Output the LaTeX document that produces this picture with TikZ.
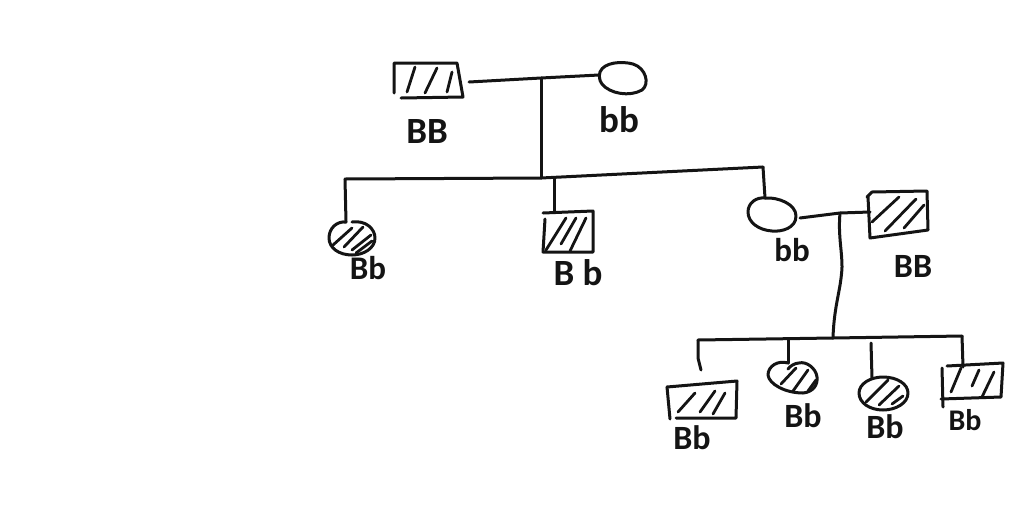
\documentclass[tikz,border=0pt]{standalone}
\usepackage{fontspec}
\setmainfont{Carlito}
\tikzset{
  x=1pt,y=-1pt,
  ink/.style={draw=black!92,line width=3pt,line cap=round,line join=round},
  hatch/.style={draw=black!92,line width=2.8pt,line cap=round},
  lab/.style={text=black!92,inner sep=0pt,font=\bfseries\fontsize{#1}{#1}\selectfont},
  lab/.default=37
}
\begin{document}
\begin{tikzpicture}
\useasboundingbox[fill=white] (0,0) rectangle (1024,512);
% junctions and attachment points
\coordinate (f1R) at (469,82);
\coordinate (m1L) at (599,75);
\coordinate (j1) at (541,78);
\coordinate (sib1) at (541,178);
\coordinate (sib1L) at (345,179);
\coordinate (sib1R) at (763,167);
\coordinate (sib1M) at (554,178);
\coordinate (c1T) at (346,222);
\coordinate (c2T) at (554,211);
\coordinate (c3T) at (765,198);
\coordinate (c3R) at (800,218);
\coordinate (p2L) at (870,212);
\coordinate (j2) at (840,213);
\coordinate (sib2) at (833,338);
\coordinate (sib2L) at (698,340);
\coordinate (sib2R) at (962,336);
\coordinate (g1T) at (701,370);
\coordinate (g2J) at (788,339);
\coordinate (g2T) at (788,363);
\coordinate (g3J) at (871,343);
\coordinate (g3T) at (872,378);
\coordinate (g4T) at (963,367);
% top father
\draw[ink] (394,93) -- (394,63) -- (457,63) -- (463,97) -- (401,98);
\draw[hatch] (415,67) -- (407,92) (437,68) -- (425,93) (452,72) -- (447,92);
% top mother
\draw[ink] (600,72) .. controls (604,62) and (622,61) .. (633,64) .. controls (646,68) and (650,84) .. (642,90) .. controls (630,97) and (610,94) .. (602,84) .. controls (599,80) and (599,76) .. (600,72) -- cycle;
% first connectors
\draw[ink] (f1R) -- (j1) -- (m1L);
\draw[ink] (j1) -- (541,150) -- (sib1);
\draw[ink] (sib1L) -- (sib1) -- (sib1R);
\draw[ink] (sib1L) -- (c1T);
\draw[ink] (sib1M) -- (c2T);
\draw[ink] (sib1R) -- (c3T);
% child 1 circle
\draw[ink] (352,222) .. controls (366,220) and (375,229) .. (375,238) .. controls (375,248) and (364,255) .. (352,255) .. controls (339,255) and (329,248) .. (329,238) .. controls (329,228) and (337,221) .. (346,222);
\draw[hatch] (333,245) -- (352,228) (352,250) -- (371,235) (344,247) -- (363,227) (356,253) -- (372,241);
% child 2 square
\draw[ink] (543,213) -- (593,211) -- (593,252) -- (543,252) -- (545,219);
\draw[hatch] (546,250) -- (566,218) (561,244) -- (576,218) (570,251) -- (586,218);
% child 3 circle
\draw[ink] (765,198) .. controls (778,197) and (796,204) .. (796,216) .. controls (796,228) and (782,232) .. (772,231) .. controls (758,230) and (748,222) .. (748,212) .. controls (748,203) and (756,197) .. (765,198) -- cycle;
\draw[ink] (c3R) -- (j2) -- (p2L);
% partner square
\draw[ink] (867,197) -- (872,192) -- (927,191) -- (928,230) -- (870,238) -- (868,197);
\draw[hatch] (872,222) -- (899,197) (885,231) -- (916,199) (904,228) -- (924,205);
% descent
\draw[ink] (j2) .. controls (838,235) and (842,250) .. (842,267) .. controls (841,290) and (834,305) .. (sib2);
\draw[ink] (sib2L) -- (sib2) -- (sib2R);
\draw[ink] (sib2L) -- (698,358) -- (g1T);
\draw[ink] (g2J) -- (g2T);
\draw[ink] (g3J) -- (g3T);
\draw[ink] (sib2R) -- (g4T);
% grandchild 1
\draw[ink] (667,387) -- (737,381) -- (736,418) -- (676,418);
\draw[ink] (667,387) -- (670,419);
\draw[hatch] (678,412) -- (695,393) (700,412) -- (715,391) (713,414) -- (725,393);
% grandchild 2 heart-ish
\draw[ink] (788,363) .. controls (778,360) and (768,366) .. (768,375) .. controls (769,384) and (785,393) .. (803,393) .. controls (813,392) and (818,385) .. (817,377) .. controls (816,368) and (806,361) .. (799,363) .. controls (795,363) and (790,366) .. (788,369);
\draw[hatch] (781,384) -- (796,368) (793,391) -- (808,370) (808,391) -- (816,380);
% grandchild 3 circle
\draw[ink] (883,377) .. controls (897,377) and (908,384) .. (908,393) .. controls (908,403) and (896,410) .. (883,410) .. controls (870,410) and (859,403) .. (859,393) .. controls (859,384) and (870,377) .. (883,377) -- cycle;
\draw[hatch] (866,402) -- (888,380) (879,405) -- (899,386) (892,404) -- (903,396);
% grandchild 4 square
\draw[ink] (947,366) -- (1003,363) -- (1001,397) -- (941,399);
\draw[ink] (942,368) -- (943,407);
\draw[hatch] (951,392) -- (961,368) (972,386) -- (979,370) (982,397) -- (994,372);
% labels
\node[lab] (tBB) at (427,131) {BB};
\node[lab] (tbb) at (619,120) {bb};
\node[lab=33] (c1l) at (368,268) {Bb};
\node[lab=37] (c2l) at (578,273) {B b};
\node[lab=33] (c3l) at (792,250) {bb};
\node[lab=34] (pl) at (913,266) {BB};
\node[lab=34] (g1l) at (692,438) {Bb};
\node[lab=34] (g2l) at (803,416) {Bb};
\node[lab=34] (g3l) at (885,427) {Bb};
\node[lab=30] (g4l) at (965,420) {Bb};
\end{tikzpicture}
\end{document}
